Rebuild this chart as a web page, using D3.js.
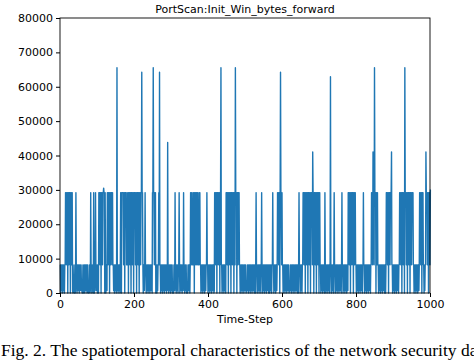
<!DOCTYPE html>
<head>
  <meta charset="utf-8">
  <style>
    body { margin: 0; background: #fff; }
    svg { display: block; }
    .tick text { font-family: "DejaVu Sans", sans-serif; font-size: 11px; fill: #000; }
  </style>
  <script src="https://cdn.jsdelivr.net/npm/d3@7/dist/d3.min.js"></script>
</head>
<body>
  <svg width="474" height="361"></svg>
  <script>

  // run-length encoded trace: [value, number of steps]
  var runs = [
    [8192,2],[0,1],[8192,1],[700,1],[8192,2],[0,1],[8192,2],[700,1],[8192,1],[0,1],[8192,2],
    [29200,2],[8192,1],[29200,3],[0,1],[29200,2],[8192,1],[29200,3],[0,1],[29200,2],[8192,1],[29200,2],
    [700,1],[0,1],[700,2],[8192,1],[0,1],[700,1],[0,1],[700,1],
    [29200,1],
    [8192,2],[0,1],[8192,2],[700,1],[8192,2],[0,1],[8192,2],[700,1],[8192,2],
    [700,2],[0,1],[700,1],[8192,1],[0,1],[700,1],
    [8192,2],[0,1],[8192,2],[700,1],[8192,2],[0,1],[8192,2],[700,1],
    [0,1],[700,2],[8192,1],[0,1],[700,1],
    [29200,1],
    [8192,2],[0,1],[8192,1],[700,1],[8192,1],[0,1],
    [29200,1],
    [8192,1],[0,1],[8192,1],[700,1],
    [29200,1],
    [8192,2],[700,1],[8192,1],[0,1],[8192,2],[0,1],
    [29200,3],[8192,1],[29200,2],[0,1],[29200,3],[8192,1],[29200,2],[30500,1],[29200,2],[0,1],[29200,1],
    [8192,1],[0,1],[8192,2],[700,1],
    [29200,2],[8192,1],[29200,3],[0,1],[29200,2],[8192,1],[29200,3],[8192,1],[29200,1],
    [8192,2],[700,1],[8192,1],[0,1],[8192,2],[700,1],[8192,1],[0,1],[8192,1],
    [65535,1],
    [700,1],[8192,1],[0,1],[8192,2],[700,1],[8192,1],[0,1],[8192,1],
    [29200,2],[0,1],[29200,2],
    [29200,3],[8192,1],[29200,2],[0,1],[29200,4],[8192,3],[29200,2],[0,1],[29200,3],[8192,1],
    [29200,2],[0,1],[29200,3],[8192,1],[29200,2],[0,1],[29200,4],[8192,1],[29200,2],[0,1],
    [29200,3],[8192,1],[29200,2],[0,1],[29200,3],[8192,1],[29200,2],[64240,1],[29200,2],
    [8192,1],[0,1],[8192,2],[700,1],[8192,1],
    [29200,1],
    [8192,2],[0,1],[8192,1],[700,1],[8192,2],[0,1],[8192,2],[700,1],[8192,1],[0,1],[8192,2],[700,1],[8192,2],[0,1],
    [29200,2],[65535,1],[29200,2],[8192,1],[29200,3],[0,1],
    [8192,2],[0,1],[8192,1],[700,1],[8192,2],
    [29200,1],[8192,1],[64240,1],
    [8192,2],[0,1],[8192,1],[700,1],[8192,2],[0,1],[8192,2],[700,1],[8192,1],[0,1],[8192,2],[700,1],[8192,2],[0,1],[8192,1],[700,1],
    [43800,1],
    [8192,2],[0,1],[8192,1],[700,1],[8192,2],[0,1],[8192,2],[700,1],[8192,1],[0,1],[700,2],[0,1],[8192,2],[700,1],
    [29200,1],
    [8192,2],[0,1],[8192,2],[700,1],[8192,1],[0,1],[8192,2],
    [29200,1],
    [8192,1],[0,1],[8192,2],[700,1],[8192,2],[0,1],[8192,2],[700,1],
    [29200,1],
    [8192,2],[0,1],[8192,1],[700,1],[8192,2],[0,1],[700,2],[0,1],[8192,2],[700,1],[8192,2],[0,1],[8192,1],
    [29200,2],[8192,1],[29200,2],[8192,3],[29200,2],[0,1],[29200,3],[8192,2],[29200,2],[8192,1],[29200,2],[8192,3],[29200,2],
    [8192,2],[0,1],[8192,1],[700,1],[8192,2],[0,1],[8192,2],[700,1],[8192,1],[0,1],[8192,2],[700,1],[8192,2],
    [29200,1],
    [8192,2],[0,1],[8192,1],[700,1],[8192,2],[0,1],[8192,2],[700,1],[8192,1],[0,1],[8192,2],[700,1],[8192,2],[0,1],[700,1],
    [29200,3],[8192,1],[29200,2],[0,1],[29200,3],[8192,1],[29200,3],[0,1],[29200,2],
    [65535,1],
    [8192,2],[0,1],[8192,1],[700,1],[8192,2],[0,1],[8192,2],[700,1],[8192,1],[0,1],
    [29200,3],[8192,1],[29200,2],[0,1],[29200,3],[8192,1],[29200,2],[0,1],[29200,3],[8192,1],
    [29200,3],[0,1],[29200,2],[8192,1],[65535,1],[29200,3],[0,1],[29200,2],[8192,1],[29200,3],
    [8192,2],[0,1],[8192,1],[700,1],[8192,2],[0,1],[8192,2],[700,1],[8192,1],[0,1],[8192,2],[700,1],[8192,2],[0,1],
    [700,3],
    [8192,2],[0,1],[8192,1],[700,1],[8192,2],[0,1],[8192,2],[700,1],[8192,1],[0,1],[8192,2],[700,1],[8192,2],[0,1],
    [8192,2],[0,1],[8192,1],
    [29200,1],
    [8192,2],[0,1],[8192,1],[700,1],[8192,2],[0,1],[8192,2],[700,1],[8192,1],[0,1],[8192,1],
    [29200,1],
    [8192,2],[0,1],[8192,1],[700,1],[8192,2],[0,1],[8192,2],[700,1],[8192,1],[0,1],[8192,2],[700,1],[8192,2],[0,1],
    [8192,2],[0,1],[8192,1],[700,1],[8192,2],[0,1],[8192,2],
    [29200,1],
    [8192,2],[0,1],[8192,1],[700,1],[8192,2],[0,1],[8192,2],[700,1],[8192,1],
    [29200,3],[8192,1],[29200,2],[0,1],[29200,1],[64240,1],[29200,2],[8192,1],[29200,1],
    [8192,2],[0,1],[8192,1],[700,1],[8192,2],[0,1],[8192,2],[700,1],[8192,1],[0,1],[8192,2],[700,1],[8192,2],[0,1],
    [700,3],
    [8192,2],[0,1],[8192,1],[700,1],[8192,2],[0,1],[8192,2],[700,1],[8192,1],[0,1],[8192,2],[700,1],[8192,2],[0,1],
    [8192,2],[0,1],[8192,1],
    [29200,1],
    [8192,2],[0,1],[8192,1],[700,1],[8192,2],[0,1],[8192,2],
    [29200,3],[8192,1],[29200,2],[0,1],[29200,3],[8192,1],[29200,2],[0,1],[29200,3],[8192,1],
    [29200,2],[0,1],[29200,4],[8192,1],[41000,1],[29200,2],[0,1],[29200,3],[8192,1],[29200,2],
    [0,1],[29200,3],[8192,1],[29200,2],[0,1],[29200,2],
    [8192,2],[0,1],[8192,1],[700,1],[8192,2],[0,1],[8192,2],[700,1],[8192,1],[0,1],
    [29200,1],
    [8192,2],[0,1],[8192,1],[700,1],[8192,2],[0,1],[8192,2],[700,1],[8192,1],[0,1],[8192,1],
    [62900,1],
    [8192,2],[0,1],[8192,1],[700,1],[8192,2],[0,1],[8192,1],
    [29200,1],
    [8192,2],[0,1],[8192,1],[700,1],[8192,2],[0,1],[8192,2],[700,1],[8192,1],[0,1],[8192,2],[700,1],[8192,2],[0,1],[8192,1],
    [29200,1],
    [8192,2],[0,1],[8192,1],[700,1],[8192,2],[0,1],[8192,2],[700,1],[8192,1],[0,1],[8192,2],[700,1],
    [29200,3],[8192,1],[29200,2],[0,1],[29200,3],[8192,1],[29200,3],[0,1],[29200,2],[8192,1],[29200,2],
    [8192,2],[0,1],[8192,1],[700,1],[8192,2],[0,1],[8192,2],[700,1],[8192,1],[0,1],[8192,2],[700,1],[8192,2],[0,1],[8192,2],
    [29200,1],
    [8192,2],[0,1],[8192,1],[700,1],[8192,2],[0,1],[8192,2],[700,1],[8192,1],[0,1],[8192,2],[700,1],[8192,2],[0,1],[8192,2],
    [29200,3],[8192,1],[41000,1],[29200,2],[8192,1],[65535,1],[29200,3],[0,1],[29200,2],[8192,1],[29200,1],
    [8192,2],[0,1],[8192,1],[700,1],[8192,2],[0,1],[8192,2],[700,1],[8192,1],[0,1],[8192,2],[700,1],[8192,2],[0,1],
    [8192,2],[0,1],[8192,1],
    [29200,3],[8192,1],[29200,2],[0,1],[29200,3],[8192,1],[29200,3],[41000,1],
    [8192,2],[0,1],[8192,1],[700,1],[8192,2],[0,1],[8192,2],[700,1],[8192,1],[0,1],[8192,2],[700,1],[8192,2],[0,1],[8192,2],
    [29200,3],[8192,1],[29200,2],[0,1],[29200,3],[8192,1],[29200,2],[0,1],[65535,1],[29200,3],
    [8192,1],[29200,2],[0,1],[29200,3],[8192,1],[29200,2],[0,1],[29200,3],[8192,1],[29200,4],
    [8192,2],[0,1],[8192,1],[700,1],[8192,2],[0,1],[8192,2],[700,1],[8192,1],[0,1],[8192,2],[700,1],[8192,1],
    [29200,3],[8192,1],[29200,2],[0,1],[29200,3],
    [8192,2],[0,1],[8192,1],[700,1],[8192,2],[41000,1],
    [29200,3],[8192,1],[29200,2],[0,1],[29200,3],[8192,1],[30000,2]
  ];

  var xTicks = [0, 200, 400, 600, 800, 1000];
  var yTicks = [0, 10000, 20000, 30000, 40000, 50000, 60000, 70000, 80000];

  var title = "PortScan:Init_Win_bytes_forward",
      xLabel = "Time-Step",
      caption = "Fig. 2. The spatiotemporal characteristics of the network security data";

  // expand the runs into one value per time step
  var data = [];
  runs.forEach(function(r) {
    for (var k = 0; k < r[1]; k++) data.push(r[0]);
  });

  var svg = d3.select("svg");

  var margin = {left: 60, right: 44, top: 18, bottom: 68},
      width = 474 - margin.left - margin.right,
      height = 361 - margin.top - margin.bottom;

  var x = d3.scaleLinear()
      .domain([0, 1000])
      .range([0, width]);

  var y = d3.scaleLinear()
      .domain([0, 80000])
      .range([height, 0]);

  var g = svg.append("g")
      .attr("transform", "translate(" + margin.left + "," + margin.top + ")");

  var line = d3.line()
      .x(function(d, i) { return x(i); })
      .y(function(d) { return y(d); });

  g.append("path")
      .datum(data)
      .attr("fill", "none")
      .attr("stroke", "#1f77b4")
      .attr("stroke-width", 1.4)
      .attr("stroke-linejoin", "round")
      .attr("d", line);

  g.append("g")
      .attr("transform", "translate(0," + height + ")")
      .call(d3.axisBottom(x).tickValues(xTicks).tickSize(4).tickPadding(3).tickFormat(d3.format("d")))
    .select(".domain").remove();

  g.append("g")
      .call(d3.axisLeft(y).tickValues(yTicks).tickSize(4).tickPadding(3).tickFormat(d3.format("d")))
    .select(".domain").remove();

  g.append("rect")
      .attr("width", width)
      .attr("height", height)
      .attr("fill", "none")
      .attr("stroke", "#000")
      .attr("stroke-width", 0.9);

  g.append("text")
      .attr("x", width / 2)
      .attr("y", -5)
      .attr("text-anchor", "middle")
      .attr("font-family", "DejaVu Sans, sans-serif")
      .attr("font-size", 11)
      .text(title);

  g.append("text")
      .attr("x", width / 2)
      .attr("y", height + 30)
      .attr("text-anchor", "middle")
      .attr("font-family", "DejaVu Sans, sans-serif")
      .attr("font-size", 11)
      .text(xLabel);

  svg.append("text")
      .attr("x", 1)
      .attr("y", 356)
      .attr("font-family", "Liberation Serif, serif")
      .attr("font-size", 17.5)
      .text(caption);

  </script>
</body>
